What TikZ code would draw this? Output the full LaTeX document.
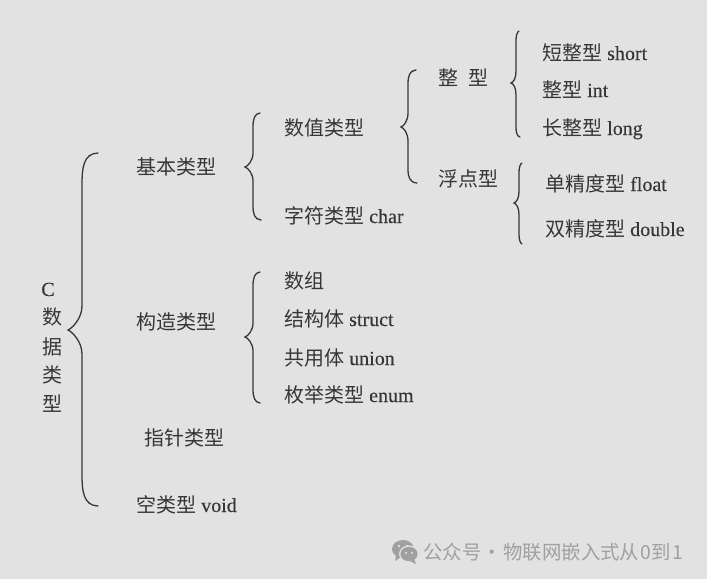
\documentclass[tikz,border=0pt]{standalone}
\usepackage{fontspec}
\setmainfont[FakeBold=0.25]{Liberation Serif}
\newfontfamily\boldlat{Liberation Serif Bold}
\newfontfamily\cjk{Noto Sans CJK SC}
\newfontfamily\wmfont{Noto Sans CJK SC}
\definecolor{bgc}{HTML}{E2E2E2}
\definecolor{inkc}{HTML}{363636}
\definecolor{wmc}{HTML}{A0A0A0}
\newcommand{\zh}[1]{{\cjk #1}}
\newcommand{\cl}{14}
\newcommand{\tl}{12}
% top-end x, top y, spine x, tip x, tip y, bottom y, bottom-end x
\newcommand{\cbrace}[7]{%
  \draw[bracestyle] (#1,#2) .. controls ({#3+1.5},{#2+0.5}) and (#3,{#2+0.45*\cl}) .. (#3,{#2+\cl})
    -- (#3,{#5-\tl}) .. controls (#3,{#5-0.45*\tl}) and ({#4+3},{#5-1}) .. (#4,#5)
    .. controls ({#4+3},{#5+1}) and (#3,{#5+0.45*\tl}) .. (#3,{#5+\tl})
    -- (#3,{#6-\cl}) .. controls (#3,{#6-0.45*\cl}) and ({#3+1.5},{#6-0.5}) .. (#7,#6);}
\tikzset{
  lab/.style={anchor=base west,inner sep=0pt,text=inkc,font=\fontsize{20}{24}\selectfont},
  vlab/.style={anchor=base,inner sep=0pt,text=inkc,font=\fontsize{20}{24}\selectfont},
  bracestyle/.style={draw=inkc,line width=1.3pt,line cap=round},
  wm/.style={anchor=base west,inner sep=0pt,text=wmc,font=\fontsize{19.4}{22}\selectfont}
}
\begin{document}
\begin{tikzpicture}[x=1pt,y=-1pt]
\useasboundingbox (0,0) rectangle (707,579);
\fill[bgc] (0,0) rectangle (707,579);
% vertical title
\node[vlab] (c)  at (48,296) {C};
\node[vlab] (c1) at (52,324) {\zh{数}};
\node[vlab] (c2) at (52,354) {\zh{据}};
\node[vlab] (c3) at (52,382) {\zh{类}};
\node[vlab] (c4) at (52,411) {\zh{型}};
% level 1
\node[lab] (basic)  at (136,174) {\zh{基本类型}};
\node[lab] (constr) at (136,329) {\zh{构造类型}};
\node[lab] (ptr)    at (144,445) {\zh{指针类型}};
\node[lab] (void)   at (136,512) {\zh{空类型} void};
% level 2
\node[lab] (num)    at (284,135) {\zh{数值类型}};
\node[lab] (char)   at (284,223) {\zh{字符类型} char};
\node[lab] (arr)    at (284,288) {\zh{数组}};
\node[lab] (struct) at (284,326) {\zh{结构体} struct};
\node[lab] (union)  at (284,365) {\zh{共用体} union};
\node[lab] (enum)   at (284,402) {\zh{枚举类型} enum};
% level 3
\node[lab] (int)    at (438,85)  {\zh{整\hspace{10pt}型}};
\node[lab] (fp)     at (438,186) {\zh{浮点型}};
% level 4
\node[lab] (short)  at (542,60)  {\zh{短整型} short};
\node[lab] (intb)   at (542,97)  {\zh{整型} int};
\node[lab] (long)   at (542,135) {\zh{长整型} long};
\node[lab] (float)  at (545,191) {\zh{单精度型} float};
\node[lab] (double) at (545,236) {\zh{双精度型} double};
% braces
\renewcommand{\cl}{32}\renewcommand{\tl}{24}
\cbrace{98}{153}{82}{68}{330}{506}{98}
\renewcommand{\cl}{14}\renewcommand{\tl}{14}
\cbrace{260}{113}{253}{245}{167}{220}{261}
\cbrace{260}{272}{253}{245}{337}{403}{260}
\cbrace{416}{70}{408}{401}{127}{183}{417}
\renewcommand{\cl}{9}\renewcommand{\tl}{12}
\cbrace{519}{31}{516}{511}{83}{137}{520}
\cbrace{522}{163}{519}{514}{203}{244}{522}
% watermark
\fill[wmc] (403,549) ellipse (11 and 9);
\fill[wmc] (396,556) -- (395,561) -- (401,557) -- cycle;
\fill[bgc] (409,554) ellipse (10 and 8.6);
\fill[wmc] (409,554) ellipse (8.6 and 7.2);
\fill[wmc] (414,559) -- (416,564) -- (410,561) -- cycle;
\fill[bgc] (399,546) circle (1.4) (407,546) circle (1.4) (406,553) circle (1.1) (412,553) circle (1.1);
\node[wm] (wm) at (423,559) {\wmfont 公众号\makebox[22pt]{·}物联网嵌入式从\hspace{1.5pt}0\hspace{0.5pt}到\hspace{1.5pt}1};
\end{tikzpicture}
\end{document}
